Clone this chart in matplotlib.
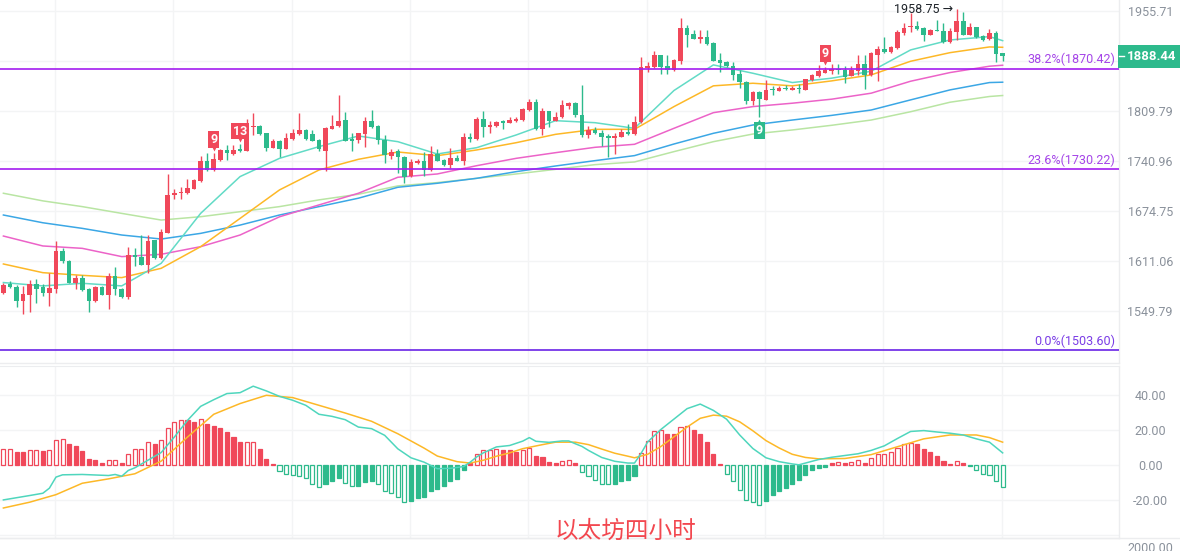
import numpy as np
import matplotlib
matplotlib.use('Agg')
import matplotlib.pyplot as plt
from matplotlib.patches import Rectangle
from matplotlib import transforms as mtrans

plt.rcParams['font.family'] = ['Roboto', 'DejaVu Sans']

# ---------------- data ----------------
opens = [
1572.2, 1582.3, 1579.5, 1562.4, 1569.7, 1582.7, 1578.7, 1572.2, 1577.0, 1624.1,
1610.7, 1584.4, 1590.1, 1577.0, 1562.4, 1579.5, 1569.7, 1592.5, 1577.0, 1567.3,
1618.8, 1615.8, 1606.6, 1637.6, 1615.0, 1646.9, 1695.4, 1698.0, 1698.0, 1704.2,
1714.8, 1740.6, 1728.9, 1742.4, 1755.9, 1750.5, 1757.3, 1755.0, 1787.6, 1789.5,
1778.8, 1759.1, 1767.7, 1757.8, 1771.4, 1777.8, 1783.4, 1777.8, 1769.5, 1755.0,
1785.2, 1788.6, 1797.2, 1770.5, 1769.5, 1777.8, 1795.4, 1788.6, 1769.5, 1748.3,
1754.6, 1746.9, 1721.0, 1738.8, 1741.0, 1728.9, 1750.5, 1742.4, 1736.1, 1745.6,
1741.5, 1774.2, 1770.5, 1798.1, 1787.6, 1788.6, 1795.4, 1793.5, 1796.3, 1797.2,
1811.2, 1822.7, 1784.3, 1809.3, 1796.3, 1800.9, 1817.5, 1820.4, 1803.7, 1776.9,
1783.4, 1778.8, 1775.1, 1772.3, 1774.2, 1780.6, 1777.8, 1794.4, 1871.3, 1873.3,
1889.7, 1874.2, 1868.4, 1881.0, 1930.2, 1921.2, 1913.8, 1916.3, 1907.4, 1883.0,
1880.0, 1874.2, 1862.7, 1851.2, 1824.6, 1837.3, 1825.9, 1841.2, 1838.3, 1843.1,
1840.2, 1843.1, 1840.2, 1854.1, 1859.8, 1864.6, 1867.4, 1870.3, 1868.4, 1859.8,
1867.4, 1877.1, 1860.8, 1890.7, 1899.5, 1894.6, 1900.6, 1922.2, 1931.2, 1933.2,
1930.2, 1920.2, 1927.1, 1925.2, 1909.3, 1924.2, 1940.1, 1920.2, 1931.2, 1918.3,
1913.3, 1923.2, 1892.7]

highs = [
1584.4, 1586.8, 1581.1, 1580.3, 1587.6, 1588.4, 1582.7, 1595.8, 1636.7, 1627.0,
1612.3, 1593.7, 1593.3, 1577.5, 1580.3, 1580.0, 1596.6, 1603.2, 1577.5, 1629.1,
1627.0, 1643.9, 1644.3, 1638.0, 1652.0, 1723.6, 1703.3, 1706.0, 1716.5, 1717.4,
1747.8, 1752.3, 1752.3, 1756.9, 1762.3, 1762.3, 1764.1, 1798.1, 1806.5, 1790.4,
1779.7, 1770.5, 1769.5, 1779.7, 1784.3, 1806.5, 1785.2, 1783.4, 1770.5, 1787.9,
1803.7, 1832.1, 1808.4, 1779.7, 1779.7, 1801.8, 1811.2, 1790.4, 1776.0, 1756.9,
1757.3, 1747.5, 1743.3, 1743.3, 1753.7, 1761.4, 1757.3, 1744.2, 1759.1, 1748.7,
1778.8, 1778.8, 1801.8, 1809.8, 1796.3, 1795.4, 1797.2, 1800.9, 1801.8, 1813.6,
1827.4, 1827.4, 1813.6, 1810.3, 1808.8, 1825.5, 1822.7, 1822.2, 1846.4, 1788.6,
1787.6, 1783.4, 1777.8, 1778.8, 1784.3, 1791.7, 1802.7, 1886.8, 1880.0, 1895.6,
1890.7, 1890.7, 1884.0, 1945.1, 1935.2, 1927.1, 1927.1, 1927.1, 1909.3, 1893.6,
1881.5, 1880.0, 1868.4, 1852.1, 1837.8, 1838.7, 1854.1, 1845.1, 1845.1, 1846.0,
1845.1, 1848.0, 1856.0, 1862.7, 1875.2, 1873.3, 1877.1, 1877.1, 1874.2, 1874.2,
1890.7, 1889.7, 1894.6, 1903.5, 1917.3, 1903.5, 1927.1, 1937.2, 1952.2, 1941.1,
1932.2, 1929.2, 1942.1, 1937.2, 1930.2, 1958.75, 1954.2, 1937.2, 1932.2, 1919.2,
1929.2, 1925.2, 1893.6]

lows = [
1570.5, 1577.5, 1555.1, 1546.2, 1548.2, 1560.0, 1568.1, 1555.9, 1572.2, 1609.0,
1583.5, 1577.0, 1573.8, 1548.2, 1560.8, 1568.9, 1551.8, 1569.3, 1565.7, 1564.1,
1605.3, 1606.2, 1596.6, 1614.2, 1614.2, 1646.0, 1691.1, 1690.2, 1697.1, 1703.3,
1713.0, 1728.0, 1727.6, 1741.5, 1741.9, 1749.6, 1753.7, 1754.6, 1776.9, 1776.9,
1755.0, 1758.2, 1746.9, 1756.9, 1769.5, 1776.9, 1769.5, 1768.2, 1755.0, 1728.0,
1784.3, 1787.6, 1767.7, 1755.0, 1766.0, 1759.6, 1786.6, 1764.1, 1738.8, 1743.7,
1724.5, 1712.1, 1720.1, 1737.0, 1721.0, 1728.0, 1740.6, 1734.3, 1731.2, 1740.6,
1735.7, 1767.3, 1769.5, 1774.2, 1778.8, 1787.6, 1784.3, 1792.6, 1794.9, 1796.3,
1810.3, 1783.4, 1776.9, 1787.1, 1795.4, 1800.0, 1812.7, 1801.8, 1773.3, 1772.3,
1777.8, 1761.4, 1746.9, 1750.5, 1773.3, 1776.9, 1776.9, 1793.5, 1865.5, 1871.3,
1862.7, 1862.7, 1867.4, 1877.1, 1902.5, 1913.3, 1907.4, 1905.5, 1881.0, 1866.0,
1872.3, 1854.1, 1842.1, 1819.0, 1818.0, 1801.8, 1825.0, 1832.6, 1837.8, 1839.7,
1840.2, 1835.9, 1839.2, 1853.1, 1857.9, 1863.6, 1862.7, 1862.7, 1850.2, 1858.9,
1860.8, 1840.7, 1859.8, 1852.1, 1892.7, 1892.7, 1899.5, 1920.2, 1924.2, 1927.1,
1911.3, 1919.2, 1925.0, 1907.4, 1908.4, 1912.8, 1919.2, 1919.2, 1915.3, 1910.3,
1912.3, 1880.0, 1882.0]

closes = [
1581.5, 1578.7, 1562.4, 1570.5, 1582.7, 1577.0, 1572.2, 1577.9, 1623.3, 1610.7,
1584.4, 1590.1, 1575.4, 1562.4, 1579.5, 1569.7, 1592.5, 1576.2, 1567.3, 1618.8,
1615.8, 1606.6, 1636.7, 1615.0, 1647.3, 1695.9, 1698.9, 1700.2, 1704.6, 1715.2,
1740.6, 1728.9, 1743.3, 1755.5, 1751.4, 1755.9, 1755.0, 1784.3, 1789.5, 1777.8,
1759.1, 1767.7, 1757.8, 1772.3, 1778.8, 1783.4, 1770.5, 1768.6, 1756.9, 1786.1,
1789.5, 1796.3, 1768.6, 1768.6, 1778.8, 1796.3, 1787.6, 1769.5, 1748.7, 1753.7,
1746.0, 1720.1, 1739.2, 1741.5, 1728.9, 1750.5, 1741.5, 1736.1, 1745.6, 1741.5,
1774.2, 1770.5, 1798.1, 1787.6, 1790.0, 1794.4, 1793.5, 1797.2, 1799.1, 1812.2,
1822.7, 1784.3, 1809.3, 1796.3, 1801.8, 1818.0, 1820.4, 1803.7, 1776.9, 1783.4,
1778.8, 1774.2, 1772.3, 1775.1, 1780.6, 1777.8, 1794.9, 1872.3, 1874.2, 1889.7,
1873.3, 1868.4, 1883.0, 1930.2, 1920.2, 1914.3, 1916.3, 1906.4, 1882.0, 1879.1,
1874.2, 1861.7, 1851.2, 1824.6, 1836.9, 1827.4, 1840.2, 1839.2, 1843.1, 1841.2,
1843.1, 1841.2, 1855.0, 1861.7, 1866.5, 1868.4, 1870.3, 1868.4, 1857.9, 1868.4,
1877.1, 1860.8, 1892.7, 1899.5, 1894.6, 1901.5, 1924.2, 1930.2, 1933.2, 1929.2,
1920.2, 1927.1, 1925.2, 1909.3, 1925.2, 1941.1, 1920.2, 1931.2, 1916.3, 1912.3,
1923.2, 1891.7, 1888.44]

# moving averages sampled every 6 candles
ma_idx = [0, 6, 12, 18, 24, 30, 36, 42, 48, 54, 60, 66, 72, 78, 84, 90, 96, 102,
          108, 114, 120, 126, 132, 138, 144, 150, 152]
ma_teal = [1584.4, 1580.3, 1583.5, 1580.3, 1608.2, 1671.7, 1720.1, 1744.6, 1760.5,
           1775.1, 1767.3, 1750.5, 1759.1, 1776.5, 1796.3, 1793.5, 1785.7, 1838.8,
           1875.7, 1863.6, 1850.2, 1856.5, 1866.5, 1897.6, 1912.3, 1917.3, 1911.3]
ma_orange = [1607.4, 1596.6, 1593.3, 1590.5, 1602.0, 1629.1, 1665.2, 1702.4, 1728.9,
             1743.3, 1753.2, 1748.2, 1756.0, 1765.9, 1777.4, 1784.3, 1784.3, 1816.0,
             1845.5, 1849.2, 1845.5, 1852.6, 1861.2, 1881.0, 1893.6, 1902.0, 1901.5]
ma_pink = [1642.6, 1630.0, 1627.0, 1616.6, 1619.5, 1629.1, 1643.9, 1667.3, 1682.7,
           1698.0, 1719.2, 1723.6, 1734.7, 1744.6, 1752.3, 1759.6, 1763.7, 1785.7,
           1807.5, 1816.0, 1820.8, 1826.5, 1835.0, 1852.1, 1864.6, 1873.8, 1875.2]
ma_blue = [1669.6, 1659.6, 1652.4, 1643.9, 1638.8, 1646.0, 1656.6, 1669.6, 1680.5,
           1691.5, 1705.9, 1711.2, 1717.8, 1726.7, 1734.3, 1741.5, 1748.3, 1764.1,
           1778.8, 1790.3, 1797.2, 1803.7, 1811.2, 1825.5, 1839.7, 1850.2, 1850.7]
ma_lgreen = [1698.0, 1688.0, 1680.5, 1671.7, 1663.1, 1667.4, 1673.9, 1680.5, 1689.3,
             1696.7, 1707.7, 1712.1, 1717.8, 1723.6, 1729.8, 1736.1, 1739.7, 1753.7,
             1767.3, 1777.8, 1783.4, 1789.9, 1797.2, 1808.8, 1822.2, 1830.3, 1831.7]

macd_hist = [
9.1, 9.2, 7.2, 7.1, 8.2, 8.6, 7.8, 8.2, 13.9, 14.9,
12.0, 10.5, 7.8, 3.4, 2.9, 1.3, 2.8, 3.0, 1.0, 6.3,
9.1, 9.2, 12.8, 11.6, 14.3, 21.1, 24.6, 25.7, 25.3, 24.6,
26.3, 23.4, 22.3, 21.1, 18.5, 15.8, 12.8, 13.1, 13.2, 9.1,
3.4, 0.6, -3.6, -5.5, -5.6, -6.1, -7.4, -11.2, -12.4, -10.9,
-9.3, -7.4, -10.5, -12.0, -11.8, -9.7, -9.3, -10.9, -15.0, -15.8,
-18.1, -21.1, -20.8, -18.9, -18.5, -14.7, -13.7, -12.0, -9.5, -7.8,
-2.9, 1.3, 6.3, 8.2, 8.6, 9.1, 8.6, 8.5, 7.4, 8.6,
9.7, 5.1, 4.4, 1.7, 1.0, 2.3, 2.9, 1.0, -4.0, -6.3,
-8.6, -10.9, -11.1, -10.9, -9.5, -8.6, -6.3, 6.5, 13.7, 19.4,
20.1, 17.8, 17.6, 21.6, 22.0, 19.6, 17.7, 13.0, 5.9, 0.6,
-5.1, -9.5, -14.3, -19.8, -21.0, -22.7, -20.4, -17.3, -15.0, -13.1,
-11.2, -8.6, -5.7, -3.2, -1.7, -1.0, 0.9, 1.5, 0.9, 1.5,
2.5, 0.9, 3.6, 5.9, 6.3, 7.2, 9.7, 11.6, 12.4, 12.0,
9.0, 7.2, 5.3, 1.9, 0.6, 1.9, 1.0, -0.8, -3.2, -5.5,
-5.6, -9.3, -12.8]

dif_idx = [0, 4, 6, 7, 8, 9, 12, 16, 17, 18, 19, 20, 24, 26, 28, 30, 32, 34, 36, 38,
           40, 42, 44, 46, 48, 50, 52, 54, 56, 58, 60, 62, 64, 66, 68, 70, 71, 72, 73,
           75, 77, 79, 80, 81, 83, 85, 86, 87, 88, 89, 91, 93, 95, 96, 97, 98, 100,
           104, 106, 108, 110, 112, 114, 116, 118, 120, 121, 122, 124, 126, 128, 130,
           132, 134, 136, 138, 140, 142, 144, 146, 148, 150, 152]
dif = [-20.0, -17.5, -16.2, -13.3, -7.0, -5.7, -5.5, -6.1, -5.5, -6.5, -3.2, -1.7,
       7.0, 15.8, 25.3, 33.3, 37.1, 40.6, 41.1, 44.8, 42.1, 39.0, 36.8, 33.9, 28.8,
       27.6, 25.7, 21.5, 20.6, 16.8, 9.1, 4.0, 1.5, -2.2, -2.0, -1.0, 1.5, 4.5, 6.8,
       10.2, 11.0, 13.5, 15.5, 13.4, 12.8, 13.6, 13.6, 12.0, 10.5, 8.2, 4.2, 2.0,
       1.0, 1.0, 6.5, 13.0, 20.1, 32.0, 34.6, 31.0, 26.0, 17.0, 9.3, 4.0, 1.8, 0.5,
       0.0, 1.0, 3.0, 4.3, 5.3, 6.3, 8.2, 10.8, 15.0, 19.0, 19.5, 18.7, 18.0, 17.0,
       14.8, 12.9, 6.8]

dea_idx = [0, 4, 8, 12, 16, 20, 24, 28, 32, 36, 40, 44, 48, 52, 56, 60, 64, 66, 69,
           71, 73, 75, 77, 79, 82, 84, 87, 89, 91, 93, 95, 96, 98, 100, 104, 106, 108,
           110, 112, 114, 116, 118, 120, 122, 124, 128, 132, 136, 140, 144, 148, 150,
           152]
dea = [-24.6, -21.3, -17.0, -10.5, -8.0, -5.1, 2.1, 15.8, 28.8, 34.9, 39.6, 38.3,
       33.9, 29.5, 24.8, 17.7, 9.5, 5.0, 1.8, 1.0, 2.6, 4.9, 6.8, 9.2, 11.5, 12.9,
       12.9, 11.5, 9.0, 6.6, 4.9, 4.0, 6.0, 10.4, 21.5, 26.5, 28.3, 27.7, 24.5, 19.4,
       13.8, 9.6, 6.0, 4.2, 3.4, 3.6, 5.8, 10.3, 14.8, 17.0, 17.0, 15.5, 12.9]

price_ticks = [1955.71, 1881.30, 1809.79, 1740.96, 1674.75, 1611.06, 1549.79]
price_tick_labels = ['1955.71', '', '1809.79', '1740.96', '1674.75', '1611.06', '1549.79']
macd_ticks = [40, 20, 0, -20, -40]
macd_tick_labels = ['40.00', '20.00', '0.00', '-20.00', '']
fib_levels = [1870.42, 1730.22, 1503.60]
fib_labels = ['38.2%(1870.42)', '23.6%(1730.22)', '0.0%(1503.60)']
last_price = 1888.44
high_idx = 145
high_label = '1958.75 →'
td_marks = [(32, '9', 'up'), (36, '13', 'up'), (115, '9', 'down'), (125, '9', 'up')]
title = '以太坊四小时'
sub_label = '2000.00'

# ---------------- style ----------------
W, H = 1180, 551
RED = '#F0485A'
GREEN = '#2DBA8C'
GRID = '#F3F4F5'
AXTXT = '#8A919B'
FIB_C = ['#A31CF0', '#A31CF0', '#6A24E6']
FIB_T = ['#A545E8', '#A545E8', '#7A3CE6']

fig = plt.figure(figsize=(W / 100, H / 100), dpi=100)
ax = fig.add_axes([0, 1 - 363 / H, 1119 / W, 363 / H])
axm = fig.add_axes([0, 1 - 538 / H, 1119 / W, (538 - 366) / H])

o = np.array(opens); h = np.array(highs); l = np.array(lows); c = np.array(closes)
x = np.arange(len(o))
xmin, xmax = -0.517, (1119 - 3.4) / 6.574

for a in (ax, axm):
    a.set_xlim(xmin, xmax)
    for s in ('top', 'left'):
        a.spines[s].set_visible(False)
    for s in ('right', 'bottom'):
        a.spines[s].set_color('#ECEDEF')
        a.spines[s].set_linewidth(1)
    a.tick_params(axis='x', bottom=False, labelbottom=False)
    a.yaxis.tick_right()
    a.tick_params(axis='y', length=0, pad=22.5, labelsize=9, labelcolor=AXTXT)
    for gx in 7.85 + 18 * np.arange(9):
        a.axvline(gx, color=GRID, lw=1, zorder=0)
axm.spines['top'].set_visible(True)
axm.spines['top'].set_color('#ECEDEF')

# price panel
ax.set_yscale('log')
ax.set_ylim(1488.6, 1972.5)
ax.set_yticks(price_ticks)
ax.set_yticklabels(price_tick_labels)
ax.yaxis.set_minor_locator(matplotlib.ticker.NullLocator())
plt.setp(ax.get_yticklabels(), ha='center')
for t in price_ticks:
    ax.axhline(t, color=GRID, lw=1, zorder=0)

up = c >= o
cols = np.where(up, RED, GREEN)
ax.vlines(x, l, h, colors=cols, lw=1, zorder=3)
body_h = np.maximum(np.abs(c - o), 0.0007 * c)
ax.bar(x, body_h, bottom=np.minimum(o, c), width=0.7, color=cols, zorder=4)

for arr, col in [(ma_lgreen, '#B9E5A3'), (ma_blue, '#3BA7E5'), (ma_pink, '#EC63C8'),
                 (ma_orange, '#FDB827'), (ma_teal, '#62DBC6')]:
    ax.plot(ma_idx, arr, color=col, lw=1.1, zorder=2)

blend = mtrans.blended_transform_factory(ax.transAxes, ax.transData)
for lev, lab, lc, tc in zip(fib_levels, fib_labels, FIB_C, FIB_T):
    ax.axhline(lev, color=lc, lw=1.2, zorder=5)
    ax.text(0.997, lev, lab, transform=mtrans.offset_copy(blend, fig, x=0, y=2.5, units='dots'),
            ha='right', va='bottom', fontsize=9, color=tc, zorder=6)

ax.text(high_idx - 0.55, h[high_idx], high_label, ha='right', va='center',
        fontsize=9, color='#1E2329', zorder=6)

for k, lab, d in td_marks:
    if d == 'up':
        base = h[k]; col = RED; off_t = 13; off_m = 5
        mk = 'v'
    else:
        base = l[k]; col = GREEN; off_t = -14; off_m = -5.5
        mk = '^'
    ax.plot([k], [base], marker=mk, ms=4.5, color=col, mec='none',
            transform=mtrans.offset_copy(ax.transData, fig, x=0, y=off_m, units='dots'),
            zorder=7)
    ax.text(k, base, lab, transform=mtrans.offset_copy(ax.transData, fig, x=0, y=off_t, units='dots'),
            ha='center', va='center', fontsize=9, color='white', fontweight='bold',
            bbox=dict(boxstyle='square,pad=0.15', fc=col, ec='none'), zorder=8)

# macd panel
axm.set_ylim(-41.7, 56.3)
axm.set_yticks(macd_ticks)
axm.set_yticklabels(macd_tick_labels)
plt.setp(axm.get_yticklabels(), ha='center')
for t in macd_ticks:
    axm.axhline(t, color=GRID, lw=1, zorder=0)

hist = np.array(macd_hist)
prev = np.concatenate([[0.0], hist[:-1]])
hollow = np.abs(hist) > np.abs(prev)
for k in range(len(hist)):
    col = RED if hist[k] >= 0 else GREEN
    fc = 'white' if hollow[k] else col
    axm.bar(k, hist[k], width=0.62, facecolor=fc, edgecolor=col, linewidth=0.9, zorder=3)

axm.plot(dea_idx, dea, color='#FDB827', lw=1.1, zorder=4)
axm.plot(dif_idx, dif, color='#4FD6BD', lw=1.1, zorder=4)

# price tag
fig.canvas.draw()
yd = ax.transData.transform((0, last_price))[1]
fig.patches.append(Rectangle((1118 / W, (yd - 11.5) / H), 62 / W, 23 / H,
                             transform=fig.transFigure, fc=GREEN, ec='none', zorder=10))
fig.lines.append(plt.Line2D([1119 / W, 1124 / W], [yd / H, yd / H], transform=fig.transFigure,
                            color='white', lw=1, zorder=11))
fig.text(1152 / W, yd / H, f'{last_price:.2f}', ha='center', va='center', fontsize=9.5,
         color='white', fontweight='bold', zorder=12)

fig.text(1150 / W, 1 - 548 / H, sub_label, ha='center', va='center', fontsize=9, color=AXTXT)
fig.add_artist(plt.Line2D([0, 1], [1 - 538 / H, 1 - 538 / H], transform=fig.transFigure,
                          color='#ECEDEF', lw=1))

fig.text(626 / W, 1 - 531 / H, title, ha='center', va='center', fontsize=17,
         color='#F2474F', family=['Noto Sans CJK SC', 'DejaVu Sans'])

fig.savefig('out.png', dpi=100)
